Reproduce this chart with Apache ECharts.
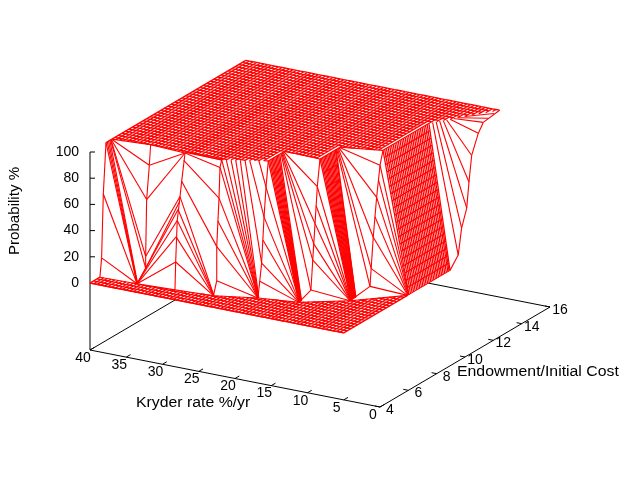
<!DOCTYPE html>
<html><head><meta charset="utf-8">
<style>html,body{margin:0;padding:0;background:#fff}#c{width:640px;height:480px}</style>
<script src="https://cdn.jsdelivr.net/npm/echarts@6/dist/echarts.min.js"></script>
</head><body><div id="c"></div>
<script>
// ---- tick labels ----
const kryderTicks = [40,35,30,25,20,15,10,5,0];
const endowmentTicks = [4,6,8,10,12,14,16];
const probabilityTicks = [0,20,40,60,80,100];
// ---- sampled rows: Kryder rate, then [endowment, probability %] along the row ----
const row40 = [[4.7,0],[4.82,14],[4.94,62],[5.13,100],[5.55,100]];
const row35 = [[4.76,0],[5.37,8],[5.37,17],[5.44,60],[5.63,85],[5.72,100]];
const row30 = [[4.88,0],[4.93,21],[5.04,52],[5.235,69],[5.355,80],[5.59,100],[5.7,100]];
const row25 = [[5.04,0],[5.27,10],[5.27,36],[5.43,72],[5.5,95],[5.62,100]];
const row20 = [[5.62,0],[5.88,25],[6.05,59],[6.19,81],[6.35,100],[7.5,100]];
const row15 = [[5.95,0],[6.8,4],[6.93,26],[7.09,53],[7.25,80],[7.44,100],[8.85,100]];
const row10 = [[7,0],[8.41,2],[8.64,38],[8.88,67],[9.12,90],[9.33,100],[12.64,100]];
const row5  = [[8.5,0],[11.5,0],[12.08,8],[12.32,27],[12.68,40],[12.84,59],[13.03,78],[13.5,92],[13.85,98],[15,100]];
const rows = [[40,row40],[35,row35],[30,row30],[25,row25],[20,row20],[15,row15],[10,row10],[5,row5]];
// ---- cross links between neighbouring rows: [eA,zA,eB,zB] ----
const links40to35 = [[4.7,0,4.76,0],[4.82,14,4.76,0],[4.94,62,4.76,0],[5.13,100,4.76,0],[5.22,100,4.77,0],[5.31,100,4.78,0],[5.4,100,4.8,0],[5.45,100,5.37,8],[5.48,100,5.37,17],[5.5,100,5.44,60],[5.53,100,5.63,85],[5.55,100,5.72,100]];
const links35to30 = [[4.76,0,4.88,0],[4.76,0,4.93,21],[4.76,0,4.96,40],[4.76,0,5.04,52],[4.77,0,5.1,60],[5.37,8,5.18,65],[5.37,17,5.235,69],[5.44,60,5.59,100],[5.63,85,5.59,100],[5.72,100,5.59,100]];
const links30to25 = [[4.88,0,5.04,0],[4.93,21,5.04,0],[4.96,40,5.04,0],[5.04,52,5.05,0],[5.1,60,5.06,0],[5.235,69,5.07,0],[5.355,80,5.27,36],[5.5,95,5.43,72],[5.59,100,5.5,95],[5.65,100,5.62,100],[5.7,100,5.62,100]];
const links25to20 = [[5.04,0,5.62,0],[5.27,10,5.62,0],[5.27,36,5.62,0],[5.35,55,5.62,0],[5.43,72,5.62,0],[5.5,95,5.63,0],[5.62,100,5.64,0]];
const links20to15 = [[5.62,0,5.95,0],[5.75,12,5.95,0],[5.88,25,5.96,0],[5.97,42,5.97,0],[6.05,59,5.98,0],[6.19,81,6,0],[7.25,100,6.8,4],[7.3,100,6.93,26],[7.35,100,7,38],[7.4,100,7.09,53],[7.45,100,7.25,80],[7.5,100,7.44,100]];
const links15to10 = [[5.95,0,7,0],[6.8,4,7,0],[6.93,26,7,0],[7,38,7.01,0],[7.09,53,7.02,0],[7.17,66,7.03,0],[7.25,80,7.04,0],[8.62,100,8.41,2],[8.68,100,8.5,15],[8.73,100,8.64,38],[8.78,100,8.88,67],[8.82,100,9.12,90],[8.85,100,9.33,100]];
const links10to5 = [[7,0,8.5,0],[8.41,2,8.5,0],[8.5,15,8.5,0],[8.64,38,8.52,0],[8.76,53,8.54,0],[8.88,67,8.56,0],[9,80,8.58,0],[9.12,90,8.6,0]];
const links = [[40,35,links40to35],[35,30,links35to30],[30,25,links30to25],[25,20,links25to20],[20,15,links20to15],[15,10,links15to10],[10,5,links10to5]];
// ---- dense ribbons on the walls: endowment at the 100% end and at the 0% end ----
const ribbon20Top = [6.35,6.44,6.53,6.62,6.71,6.8,6.89,6.98,7.07,7.16];
const ribbon20Low = [5.96,5.98,6,6.02,6.04,6.06,6.08,6.1,6.12,6.14];
const ribbon15Top = [7.44,7.53,7.62,7.71,7.8,7.89,7.98,8.07,8.16,8.25,8.34,8.43,8.52,8.58];
const ribbon15Low = [7.05,7.08,7.11,7.14,7.17,7.2,7.23,7.26,7.29,7.32,7.35,7.38,7.4,7.41];
const ribbon10Top = [9.33,9.45,9.57,9.69,9.81,9.93,10.05,10.17,10.29,10.41,10.53,10.65,10.77,10.89,11.01,11.13,11.25,11.37,11.49,11.61,11.73,11.85,11.97,12.09,12.21,12.33,12.45,12.57];
const ribbon10Low = [8.6,8.71,8.82,8.93,9.04,9.15,9.26,9.37,9.48,9.59,9.7,9.81,9.92,10.03,10.14,10.25,10.36,10.47,10.58,10.69,10.8,10.91,11.02,11.13,11.24,11.35,11.43,11.5];
const levelsCoarse = [90,80,70,60,50,40,30,20,10];
const levelsFine = [95,90,85,80,75,70,65,60,55,50,45,40,35,30,25,20,15,10,5];
const ribbons = [[20,15,ribbon20Top,ribbon20Low,levelsCoarse],[15,10,ribbon15Top,ribbon15Low,levelsCoarse],[10,5,ribbon10Top,ribbon10Low,levelsFine]];
// ---- fans whose upper ends lie along the plateau edge: [kA,eA,zA,kB,eB,zB] ----
const midFan = [[24.5,5.69,100,20,5.65,0],[24,5.77,100,20,5.66,0],[23.5,5.84,100,20,5.67,0],[23,5.91,100,20,5.68,0],[22.5,5.99,100,20,5.88,25],[22,6.06,100,20,6.05,59],[21,6.2,100,20,6.19,81],[20.5,6.28,100,20,6.35,100]];
const rightFan = [[9.8,12.73,100,5,12.08,8],[9.55,12.85,100,5,12.32,27],[9.3,12.97,100,5,12.68,40],[9.05,13.09,100,5,12.84,59],[8.8,13.2,100,5,13.03,78],[8.55,13.32,100,5,13.5,92],[8.3,13.44,100,5,13.85,98],[8,13.58,100,5,14.2,99],[7.5,13.82,100,5,14.6,100]];
// ---- flat parts of the surface: grid rows, where each flat part ends ----
const gridK = [40,39.5,39,38.5,38,37.5,37,36.5,36,35.5,35,34.5,34,33.5,33,32.5,32,31.5,31,30.5,30,29.5,29,28.5,28,27.5,27,26.5,26,25.5,25,24.5,24,23.5,23,22.5,22,21.5,21,20.5,20,19.5,19,18.5,18,17.5,17,16.5,16,15.5,15,14.5,14,13.5,13,12.5,12,11.5,11,10.5,10,9.5,9,8.5,8,7.5,7,6.5,6,5.5,5];
const plateauStart = [5.55,5.57,5.58,5.6,5.62,5.64,5.65,5.67,5.69,5.7,5.72,5.71,5.69,5.68,5.67,5.66,5.64,5.63,5.62,5.6,5.7,5.69,5.68,5.67,5.66,5.66,5.65,5.64,5.63,5.63,5.62,5.69,5.77,5.84,5.91,5.99,6.06,6.13,6.2,6.28,7.5,7.5,7.5,7.49,7.48,7.47,7.46,7.45,7.45,7.44,8.85,8.9,8.95,9,9.04,9.09,9.14,9.19,9.23,9.28,12.64,12.88,13.11,13.35,13.58,13.82,14.06,14.29,14.53,14.76,15];
const lowEnd = [4.7,4.71,4.71,4.72,4.72,4.73,4.73,4.74,4.74,4.75,4.76,4.77,4.78,4.8,4.81,4.82,4.83,4.84,4.86,4.87,4.88,4.9,4.92,4.93,4.94,4.96,4.98,5,5.01,5.03,5.04,5.1,5.16,5.21,5.27,5.33,5.39,5.45,5.5,5.56,5.62,5.65,5.69,5.72,5.75,5.79,5.82,5.85,5.88,5.92,5.95,6.06,6.16,6.27,6.37,6.47,6.58,6.68,6.79,6.89,7,7.15,7.3,7.45,7.6,7.75,7.9,8.05,8.2,8.35,8.5];
const plateauE = [5,5.25,5.5,5.75,6,6.25,6.5,6.75,7,7.25,7.5,7.75,8,8.25,8.5,8.75,9,9.25,9.5,9.75,10,10.25,10.5,10.75,11,11.25,11.5,11.75,12,12.25,12.5,12.75,13,13.25,13.5,13.75,14,14.25,14.5,14.75,15];
const lowE = [4,4.25,4.5,4.75,5,5.25,5.5,5.75,6,6.25,6.5,6.75,7,7.25,7.5,7.75,8,8.25,8.5];
// outline of the visible surface (hides the box lines behind it)
const outline = [[40,4,0],[40,4.7,0],[40,5.13,100],[40,5.55,100],[35,5.72,100],[30,5.59,100],[25,5.62,100],[20,6.35,100],[15,7.44,100],[10,9.33,100],[5,15,100],[5,13.85,98],[5,13.5,92],[5,13.03,78],[5,12.84,59],[5,12.68,40],[5,12.32,27],[5,12.08,8],[5,11.5,0],[5,4,0]];

// ---- view: 3D axis values to the flat plane of the picture ----
const zFloor = -51.15;
function project(k,e,z){
  return [90+(40-k)*7.25+(e-4)*14.167, 283+(40-k)*1.425-(e-4)*8.333-z*1.31];
}
// ---- build line lists ----
const boxLines = [
  [40,4,zFloor,0,4,zFloor],[0,4,zFloor,0,16,zFloor],[0,16,zFloor,40,16,zFloor],[40,16,zFloor,40,4,zFloor],[40,4,zFloor,40,4,100]
];
kryderTicks.forEach(k=>boxLines.push([k,4,zFloor,k,4.3,zFloor]));
endowmentTicks.forEach(e=>boxLines.push([0,e,zFloor,0.7,e,zFloor]));

const flat = [], mesh = [], ribbonLines = [];
gridK.forEach((k,i)=>{
  if(plateauStart[i]<15) flat.push([k,plateauStart[i],100,k,15,100]);
  flat.push([k,4,0,k,lowEnd[i],0]);
  if(i<gridK.length-1){
    const k2=gridK[i+1];
    plateauE.forEach(e=>{ if(e>=plateauStart[i]&&e>=plateauStart[i+1]) flat.push([k,e,100,k2,e,100]); });
    lowE.forEach(e=>{ if(e<=lowEnd[i]&&e<=lowEnd[i+1]) flat.push([k,e,0,k2,e,0]); });
  }
});
flat.push([40,4,0,5,4,0]);
rows.forEach(([k,r])=>{ for(let i=0;i<r.length-1;i++) mesh.push([k,r[i][0],r[i][1],k,r[i+1][0],r[i+1][1]]); });
links.forEach(([ka,kb,l])=>l.forEach(p=>mesh.push([ka,p[0],p[1],kb,p[2],p[3]])));
midFan.forEach(p=>mesh.push(p));
rightFan.forEach(p=>mesh.push(p));
ribbons.forEach(([ka,kb,top,low,levels])=>{
  top.forEach((e,j)=>ribbonLines.push([ka,e,100,kb,low[j],0]));
  levels.forEach(z=>{
    const t=1-z/100;
    for(let j=0;j<top.length-1;j++){
      ribbonLines.push([ka+(kb-ka)*t, top[j]+(low[j]-top[j])*t, z, ka+(kb-ka)*t, top[j+1]+(low[j+1]-top[j+1])*t, z]);
    }
  });
});

function lineSeries(name,list,color,width){
  return {name,type:'custom',coordinateSystem:'cartesian2d',clip:false,silent:true,animation:false,progressive:0,
    data:list.map(a=>a.slice()),encode:{x:-1,y:-1},
    renderItem(params,api){
      const p=project(api.value(0),api.value(1),api.value(2)),q=project(api.value(3),api.value(4),api.value(5));
      const a=api.coord(p),b=api.coord(q);
      return {type:'line',shape:{x1:a[0],y1:a[1],x2:b[0],y2:b[1]},style:{stroke:color,lineWidth:width,fill:null}};
    }};
}
const FONT='14px "Liberation Sans", Arial, sans-serif';
function textEl(api,pt,dx,dy,txt,align){
  const c=api.coord(pt);
  return {type:'text',x:c[0]+dx,y:c[1]+dy,style:{text:String(txt),font:FONT,fill:'#000',align:align||'center',verticalAlign:'middle'}};
}
const tickLabels=[];
kryderTicks.forEach(k=>tickLabels.push({v:[k,4,zFloor],t:k,dx:-7,dy:8,a:'center'}));
endowmentTicks.forEach(e=>tickLabels.push({v:[0,e,zFloor],t:e,dx:10,dy:3,a:'center'}));
probabilityTicks.forEach(z=>tickLabels.push({v:[40,4,z],t:z,dx:-11,dy:0,a:'right'}));

const option={
  animation:false,backgroundColor:'#fff',
  grid:{left:0,right:0,top:0,bottom:0,containLabel:false},
  xAxis:{type:'value',min:0,max:640,show:false},
  yAxis:{type:'value',min:0,max:480,inverse:true,show:false},
  series:[
    lineSeries('box',boxLines,'#000',1),
    {name:'z ticks',type:'custom',coordinateSystem:'cartesian2d',clip:false,silent:true,
      data:probabilityTicks.map(z=>[z]),encode:{x:-1,y:-1},
      renderItem(params,api){const a=api.coord(project(40,4,api.value(0)));
        return {type:'line',shape:{x1:a[0],y1:a[1],x2:a[0]+5,y2:a[1]},style:{stroke:'#000',lineWidth:1}};}},
    {name:'outline',type:'custom',coordinateSystem:'cartesian2d',clip:false,silent:true,
      data:[[0]],encode:{x:-1,y:-1},
      renderItem(params,api){
        return {type:'polygon',shape:{points:outline.map(p=>api.coord(project(p[0],p[1],p[2])))},style:{fill:'#fff',stroke:null}};}},
    lineSeries('flat parts',flat,'#ff0000',1.3),
    lineSeries('surface',mesh,'#ff0000',1.1),
    lineSeries('ribbons',ribbonLines,'#ff0000',1.25),
    {name:'labels',type:'custom',coordinateSystem:'cartesian2d',clip:false,silent:true,
      data:tickLabels.map((_,i)=>[i]),encode:{x:-1,y:-1},
      renderItem(params,api){
        const l=tickLabels[api.value(0)];
        return textEl(api,project(l.v[0],l.v[1],l.v[2]),l.dx,l.dy,l.t,l.a);}}
  ],
  graphic:[
    {type:'text',x:136,y:403,scaleX:1.13,z:100,style:{text:'Kryder rate %/yr',font:FONT,fill:'#000',verticalAlign:'middle'}},
    {type:'text',x:457,y:372,scaleX:1.13,z:100,style:{text:'Endowment/Initial Cost',font:FONT,fill:'#000',verticalAlign:'middle'}},
    {type:'text',x:15,y:211,rotation:Math.PI/2,scaleX:1.08,z:100,style:{text:'Probability %',font:FONT,fill:'#000',align:'center',verticalAlign:'middle'}}
  ]
};
const chart=echarts.init(document.getElementById('c'),null,{renderer:'canvas',width:640,height:480,devicePixelRatio:1});
chart.setOption(option);
</script></body></html>
